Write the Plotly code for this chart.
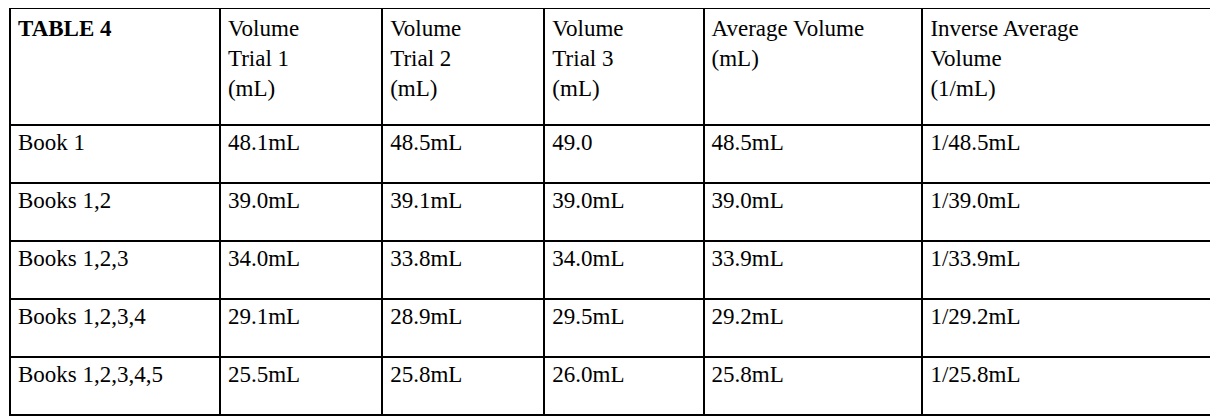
import plotly.graph_objects as go

headers = ["<b>TABLE 4</b>", "Volume<br>Trial 1<br>(mL)", "Volume<br>Trial 2<br>(mL)",
           "Volume<br>Trial 3<br>(mL)", "Average Volume<br>(mL)", "Inverse Average<br>Volume<br>(1/mL)"]
samples = ["Book 1", "Books 1,2", "Books 1,2,3", "Books 1,2,3,4", "Books 1,2,3,4,5"]
trial1 = ["48.1mL", "39.0mL", "34.0mL", "29.1mL", "25.5mL"]
trial2 = ["48.5mL", "39.1mL", "33.8mL", "28.9mL", "25.8mL"]
trial3 = ["49.0", "39.0mL", "34.0mL", "29.5mL", "26.0mL"]
average = ["48.5mL", "39.0mL", "33.9mL", "29.2mL", "25.8mL"]
inverse = ["1/48.5mL", "1/39.0mL", "1/33.9mL", "1/29.2mL", "1/25.8mL"]

font = dict(family="Liberation Serif, Times New Roman, serif", size=23, color="black")

fig = go.Figure(go.Table(
    columnwidth=[211, 163, 163, 160, 220, 296],
    header=dict(values=headers, align="left", font=font, height=117,
                line=dict(color="black", width=2), fill_color="white"),
    cells=dict(values=[samples, trial1, trial2, trial3, average, inverse],
               align="left", font=font, height=58,
               line=dict(color="black", width=2), fill_color="white"),
    domain=dict(x=[0, 0.995], y=[0, 1]),
))
fig.update_layout(width=1218, height=416, margin=dict(l=2, r=2, t=0, b=0),
                  paper_bgcolor="white")
fig.write_html("out.html")
